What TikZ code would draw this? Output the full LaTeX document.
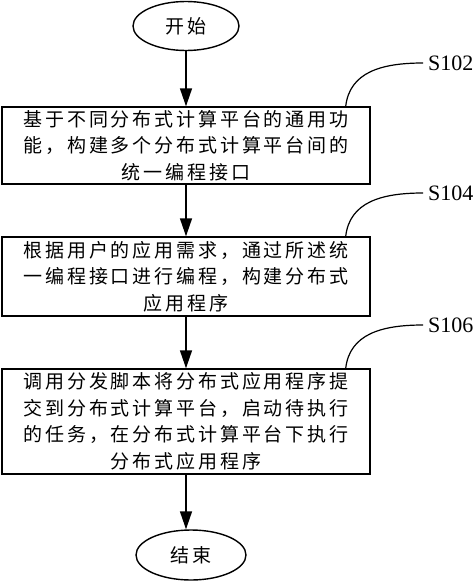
\documentclass[tikz,border=0pt]{standalone}
\usepackage{fontspec}
\setmainfont{Liberation Serif}
\newfontfamily\cjk[LetterSpace=15]{Noto Sans CJK SC}
\usetikzlibrary{shapes.geometric,arrows.meta}
\tikzset{
  every picture/.style={x=1pt,y=-1pt},
  box/.style={draw,line width=1.4pt,rectangle,minimum width=368pt,align=center,inner sep=0pt,
    font=\cjk\fontsize{19}{26.5}\selectfont},
  ell/.style={draw,line width=1.4pt,ellipse,inner sep=0pt,font=\cjk\fontsize{19}{20}\selectfont},
  arr/.style={line width=1.4pt,-{Triangle[length=18pt,width=12pt]}},
  lead/.style={line width=1.2pt},
  slabel/.style={anchor=west,inner xsep=5pt,inner ysep=0pt,font=\fontsize{22}{22}\selectfont}
}
\begin{document}
\begin{tikzpicture}
\useasboundingbox (0,0) rectangle (474,581);
\node[ell,minimum width=106pt,minimum height=49pt] (start) at (186,26) {开始};
\node[box,minimum height=77pt] (b1) at (186,145.5) {基于不同分布式计算平台的通用功\\能，构建多个分布式计算平台间的\\统一编程接口};
\node[box,minimum height=79pt] (b2) at (186,276.5) {根据用户的应用需求，通过所述统\\一编程接口进行编程，构建分布式\\应用程序};
\node[box,minimum height=105pt] (b3) at (186,421.5) {调用分发脚本将分布式应用程序提\\交到分布式计算平台，启动待执行\\的任务，在分布式计算平台下执行\\分布式应用程序};
\node[ell,minimum width=110pt,minimum height=50pt] (end) at (191,555) {结束};
\draw[arr] (start) -- (b1);
\draw[arr] (b1) -- (b2);
\draw[arr] (b2) -- (b3);
\draw[arr] (b3.south) -- (end.north -| b3.south);
\node[slabel] (s1) at (423,63) {S102};
\node[slabel] (s2) at (423,193) {S104};
\node[slabel] (s3) at (423,325) {S106};
\draw[lead] ([xshift=-25pt]b1.north east) .. controls +(4,-34) and +(-42,0) .. (s1.west);
\draw[lead] ([xshift=-25pt]b2.north east) .. controls +(4,-34) and +(-42,0) .. (s2.west);
\draw[lead] ([xshift=-25pt]b3.north east) .. controls +(4,-34) and +(-42,0) .. (s3.west);
\end{tikzpicture}
\end{document}
